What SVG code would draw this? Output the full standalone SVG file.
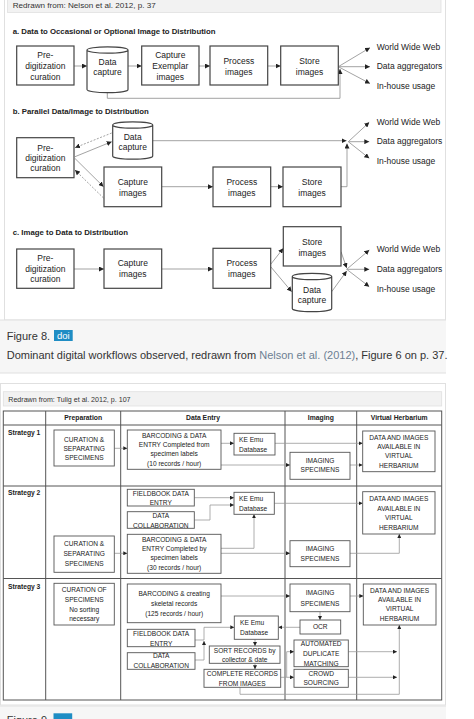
<svg xmlns="http://www.w3.org/2000/svg" width="474" height="719" viewBox="0 0 474 719">
<defs>
<marker id="ah" markerUnits="userSpaceOnUse" markerWidth="5" markerHeight="5" refX="5" refY="2.5" orient="auto"><path d="M0,0 L5,2.5 L0,5 z" fill="#222"/></marker>
<marker id="as" markerUnits="userSpaceOnUse" markerWidth="4" markerHeight="4" refX="4" refY="2" orient="auto"><path d="M0,0 L4,2 L0,4 z" fill="#222"/></marker>
<style>
text{font-family:"Liberation Sans",Arial,sans-serif;fill:#222}
.t{font-size:8.5px;text-anchor:middle}
.lbl{font-size:8.5px}
.h{font-size:7.8px;font-weight:bold}
.bx{fill:#fff;stroke:#444;stroke-width:1.2}
.c{fill:none;stroke:#999;stroke-width:0.9;marker-end:url(#ah)}
.cd{fill:none;stroke:#999;stroke-width:0.9;stroke-dasharray:2,1.5;marker-end:url(#ah)}
.tt{font-size:6.6px;text-anchor:middle}
.tl{font-size:6.6px}
.th{font-size:6.8px;font-weight:bold;text-anchor:middle}
.ts{font-size:6.7px;font-weight:bold}
.tb{fill:#fff;stroke:#555;stroke-width:0.9}
.tc{fill:none;stroke:#999;stroke-width:0.8;marker-end:url(#as)}
.grid{fill:none;stroke:#555;stroke-width:1}
.hdr{fill:#f2f2f2;stroke:#e0e0e0;stroke-width:0.8}
</style>
</defs>
<rect x="0" y="0" width="474" height="719" fill="#fff"/>
<!-- Figure 8 panel -->
<rect x="4.5" y="-2" width="441" height="322" fill="#fff" stroke="#e0e0e0"/>
<rect class="hdr" x="7.5" y="-2" width="433.5" height="14.5"/>
<text x="12.7" y="8" style="font-size:8.1px;fill:#333">Redrawn from: Nelson et al. 2012, p. 37</text>

<text class="h" x="12.7" y="33.5">a. Data to Occasional or Optional Image to Distribution</text>
<text class="h" x="12.7" y="113.5">b. Parallel Data/Image to Distribution</text>
<text class="h" x="12.7" y="234.5">c. Image to Data to Distribution</text>

<g id="connectors-a">
<path class="c" d="M74,66 H87"/>
<path class="c" d="M128,66 H141.7"/>
<path class="c" d="M199,66 H210"/>
<path class="c" d="M267.7,66 H280.7"/>
<path class="c" d="M107.3,93 V98.3 H340 V69"/>
<path class="c" d="M338.3,66.7 L370,47.7"/>
<path class="c" d="M338.3,66.7 L370,66.7"/>
<path class="c" d="M338.3,66.7 L370,83.5"/>
</g>
<g id="a-predig"><rect class="bx" x="16.7" y="46" width="57.3" height="39"/><text class="t" x="45.3" y="58">Pre-</text><text class="t" x="45.3" y="68.7">digitization</text><text class="t" x="45.3" y="79.7">curation</text></g>
<g id="a-datacapture"><path class="bx" d="M87,50 V89.5 A20.5,3.2 0 0 0 128,89.5 V50 A20.5,3.2 0 0 0 87,50 A20.5,3.2 0 0 0 128,50"/><text class="t" x="107.5" y="64.7">Data</text><text class="t" x="107.5" y="74.7">capture</text></g>
<g id="a-capture"><rect class="bx" x="141.7" y="46" width="57.3" height="39"/><text class="t" x="170.3" y="58">Capture</text><text class="t" x="170.3" y="68.7">Exemplar</text><text class="t" x="170.3" y="79.7">images</text></g>
<g id="a-process"><rect class="bx" x="210" y="46" width="57.7" height="39"/><text class="t" x="238.8" y="64">Process</text><text class="t" x="238.8" y="74.7">images</text></g>
<g id="a-store"><rect class="bx" x="280.7" y="46" width="57.6" height="39"/><text class="t" x="309.5" y="64">Store</text><text class="t" x="309.5" y="74.7">images</text></g>
<g id="a-out"><text class="lbl" x="376.7" y="49.7">World Wide Web</text><text class="lbl" x="376.7" y="69">Data aggregators</text><text class="lbl" x="376.7" y="89">In-house usage</text></g>

<g id="connectors-b">
<path class="c" d="M75,156.7 L111.7,141.7"/>
<path class="cd" d="M111.7,133 L75,147.7"/>
<path class="c" d="M75,158.5 L103.5,186.7"/>
<path class="cd" d="M103.5,198 L75,170"/>
<path class="c" d="M161.7,186.7 H213"/>
<path class="c" d="M270.7,186.7 H283"/>
<path class="c" d="M152.7,140.7 H346.5"/>
<path class="c" d="M341,186.7 H347 V143.5"/>
<path class="c" d="M348.3,141.7 L369.3,122.3"/>
<path class="c" d="M348.3,141.7 L369.3,141.7"/>
<path class="c" d="M348.3,141.7 L369.3,158.3"/>
</g>
<g id="b-predig"><rect class="bx" x="16.7" y="137.7" width="57.3" height="40"/><text class="t" x="45.3" y="150.7">Pre-</text><text class="t" x="45.3" y="161.3">digitization</text><text class="t" x="45.3" y="171.3">curation</text></g>
<g id="b-datacapture"><path class="bx" d="M112.7,125 V156 A20,3.2 0 0 0 152.7,156 V125 A20,3.2 0 0 0 112.7,125 A20,3.2 0 0 0 152.7,125"/><text class="t" x="132.7" y="140.3">Data</text><text class="t" x="132.7" y="150.3">capture</text></g>
<g id="b-capture"><rect class="bx" x="104" y="167" width="57.7" height="39.7"/><text class="t" x="132.8" y="185.3">Capture</text><text class="t" x="132.8" y="196.3">images</text></g>
<g id="b-process"><rect class="bx" x="213" y="167" width="57.7" height="39.7"/><text class="t" x="241.8" y="185.3">Process</text><text class="t" x="241.8" y="196.3">images</text></g>
<g id="b-store"><rect class="bx" x="283" y="167" width="58" height="39.7"/><text class="t" x="312" y="184.7">Store</text><text class="t" x="312" y="196.3">images</text></g>
<g id="b-out"><text class="lbl" x="376.7" y="124.7">World Wide Web</text><text class="lbl" x="376.7" y="144">Data aggregators</text><text class="lbl" x="376.7" y="163.7">In-house usage</text></g>

<g id="connectors-c">
<path class="c" d="M74,269 H104"/>
<path class="c" d="M161.7,269 H213"/>
<path class="c" d="M270.7,264.3 L283.3,248.3"/>
<path class="c" d="M270.7,266.7 L291.7,291.7"/>
<path class="c" d="M341,251.7 L346.7,268"/>
<path class="c" d="M331.7,291.7 L346.7,271"/>
<path class="c" d="M346.7,269.3 L369.3,250"/>
<path class="c" d="M346.7,269.3 L369.3,269.3"/>
<path class="c" d="M346.7,269.3 L369.3,286.7"/>
</g>
<g id="c-predig"><rect class="bx" x="16.7" y="249" width="57.3" height="39.3"/><text class="t" x="45.3" y="260.7">Pre-</text><text class="t" x="45.3" y="272">digitization</text><text class="t" x="45.3" y="282.3">curation</text></g>
<g id="c-capture"><rect class="bx" x="104" y="249" width="57.7" height="39.3"/><text class="t" x="132.8" y="266.3">Capture</text><text class="t" x="132.8" y="277.3">images</text></g>
<g id="c-process"><rect class="bx" x="213" y="248.3" width="57.7" height="40"/><text class="t" x="241.8" y="266.3">Process</text><text class="t" x="241.8" y="277.3">images</text></g>
<g id="c-store"><rect class="bx" x="283.3" y="226.7" width="57.7" height="39.3"/><text class="t" x="312.2" y="244.7">Store</text><text class="t" x="312.2" y="255.7">images</text></g>
<g id="c-datacapture"><path class="bx" d="M292.3,276.5 V308.5 A19.7,3.2 0 0 0 331.7,308.5 V276.5 A19.7,3.2 0 0 0 292.3,276.5 A19.7,3.2 0 0 0 331.7,276.5"/><text class="t" x="312" y="293">Data</text><text class="t" x="312" y="303">capture</text></g>
<g id="c-out"><text class="lbl" x="376.7" y="252.3">World Wide Web</text><text class="lbl" x="376.7" y="272.3">Data aggregators</text><text class="lbl" x="376.7" y="292">In-house usage</text></g>

<!-- Caption 8 -->
<g id="caption8">
<rect x="0" y="320" width="446" height="53" fill="#f6f6f6"/>
<line x1="0" y1="320" x2="446" y2="320" stroke="#e0e0e0"/>
<line x1="0" y1="373" x2="446" y2="373" stroke="#e0e0e0"/>
<text x="6.7" y="339.5" style="font-size:11px;fill:#333">Figure 8.</text>
<rect x="54" y="330" width="18.7" height="11" fill="#1f8dc4"/>
<text x="63.3" y="338.8" style="font-size:9.5px;fill:#fff;text-anchor:middle">doi</text>
<text x="6.7" y="359" style="font-size:11px;fill:#333">Dominant digital workflows observed, redrawn from <tspan style="fill:#6d7f93">Nelson et al. (2012)</tspan>, Figure 6 on p. 37.</text>
</g>

<!-- Figure 9 panel -->
<rect x="0.5" y="383.5" width="445" height="321.5" fill="#fff" stroke="#e0e0e0"/>
<rect class="hdr" x="3.3" y="391.7" width="438.4" height="14.3"/>
<text x="8.3" y="401.5" style="font-size:7.1px;fill:#333">Redrawn from: Tulig et al. 2012, p. 107</text>

<g id="table">
<rect class="grid" x="3.3" y="411" width="438.4" height="289"/>
<path class="grid" d="M45.7,411 V700 M120.7,411 V700 M285,411 V700 M356.7,411 V700 M3.3,425 H441.7 M3.3,486 H441.7 M3.3,578.5 H441.7"/>
<text class="th" x="83.2" y="420.3">Preparation</text>
<text class="th" x="203" y="420.3">Data Entry</text>
<text class="th" x="320.8" y="420.3">Imaging</text>
<text class="th" x="399.2" y="420.3">Virtual Herbarium</text>
<text class="ts" x="8" y="435">Strategy 1</text>
<text class="ts" x="8" y="494.6">Strategy 2</text>
<text class="ts" x="8" y="589">Strategy 3</text>
</g>

<g id="connectors-table">
<path class="tc" d="M114.3,448.3 H127.3"/>
<path class="tc" d="M221,443.3 H234"/>
<path class="tc" d="M275,443.3 H362.7"/>
<path class="tc" d="M221,465 H290"/>
<path class="tc" d="M350,465 H362.7"/>
<path class="tc" d="M194.3,497.7 H234"/>
<path class="tc" d="M194.3,520 H210 V505 H234"/>
<path class="tc" d="M274.3,503.3 H362.7"/>
<path class="tc" d="M114.3,553.3 H127.3"/>
<path class="tc" d="M221,548.3 H254 V514.3"/>
<path class="tc" d="M221,553.3 H290"/>
<path class="tc" d="M350,553.3 H399.3 V534"/>
<path class="tc" d="M221,596 H290"/>
<path class="tc" d="M350,596 H363.3"/>
<path class="tc" d="M320,611.7 V620"/>
<path class="tc" d="M300,627.3 H278.3"/>
<path class="tc" d="M195,640 H204 V627.3 H234.3"/>
<path class="tc" d="M195,660 H204 V641"/>
<path class="tc" d="M255,639.3 V646"/>
<path class="tc" d="M255,663.3 V669.3"/>
<path class="tc" d="M280.7,677.3 H286.7 V651.7 H294"/>
<path class="tc" d="M286.7,677.3 H294"/>
<path class="tc" d="M348.3,651.7 H397"/>
<path class="tc" d="M348.3,677.3 H397"/>
<path class="tc" d="M240,687.3 V694.3 H399.3 V625"/>
</g>

<!-- Strategy 1 -->
<g id="s1-curation"><rect class="tb" x="54" y="430" width="60.3" height="36"/><text class="tt" x="84.2" y="441.6">CURATION &amp;</text><text class="tt" x="84.2" y="450.6">SEPARATING</text><text class="tt" x="84.2" y="460">SPECIMENS</text></g>
<g id="s1-barcoding"><rect class="tb" x="127.3" y="430" width="93.7" height="39.3"/><text class="tt" x="174.2" y="438">BARCODING &amp; DATA</text><text class="tt" x="174.2" y="447.3">ENTRY Completed from</text><text class="tt" x="174.2" y="456.3">specimen labels</text><text class="tt" x="174.2" y="466.3">(10 records / hour)</text></g>
<g id="s1-keemu"><rect class="tb" x="234" y="433.3" width="41" height="21.7"/><text class="tl" x="239" y="441.6">KE Emu</text><text class="tl" x="239" y="451.6">Database</text></g>
<g id="s1-imaging"><rect class="tb" x="290" y="452.3" width="60" height="27"/><text class="tt" x="320" y="463.3">IMAGING</text><text class="tt" x="320" y="472.3">SPECIMENS</text></g>
<g id="s1-virtual"><rect class="tb" x="362.7" y="431" width="72.3" height="40.7"/><text class="tt" x="398.8" y="439.6">DATA AND IMAGES</text><text class="tt" x="398.8" y="449">AVAILABLE IN</text><text class="tt" x="398.8" y="458.3">VIRTUAL</text><text class="tt" x="398.8" y="467.6">HERBARIUM</text></g>

<!-- Strategy 2 -->
<g id="s2-fieldbook"><rect class="tb" x="127.3" y="489.3" width="67" height="16.7"/><text class="tt" x="160.8" y="495.6">FIELDBOOK DATA</text><text class="tt" x="160.8" y="504.6">ENTRY</text></g>
<g id="s2-collab"><rect class="tb" x="127.3" y="511.7" width="67" height="16.6"/><text class="tt" x="160.8" y="518">DATA</text><text class="tt" x="160.8" y="527.6">COLLABORATION</text></g>
<g id="s2-curation"><rect class="tb" x="54" y="536" width="60.3" height="36.3"/><text class="tt" x="84.2" y="546.3">CURATION &amp;</text><text class="tt" x="84.2" y="555.6">SEPARATING</text><text class="tt" x="84.2" y="565.6">SPECIMENS</text></g>
<g id="s2-barcoding"><rect class="tb" x="127.3" y="534.3" width="93.7" height="39"/><text class="tt" x="174.2" y="541.6">BARCODING &amp; DATA</text><text class="tt" x="174.2" y="550.6">ENTRY Completed by</text><text class="tt" x="174.2" y="560">specimen labels</text><text class="tt" x="174.2" y="570">(30 records / hour)</text></g>
<g id="s2-keemu"><rect class="tb" x="234" y="492.3" width="40.3" height="22"/><text class="tl" x="239" y="501.3">KE Emu</text><text class="tl" x="239" y="510.6">Database</text></g>
<g id="s2-imaging"><rect class="tb" x="290" y="540.7" width="60" height="26"/><text class="tt" x="320" y="551.3">IMAGING</text><text class="tt" x="320" y="560.6">SPECIMENS</text></g>
<g id="s2-virtual"><rect class="tb" x="362.7" y="491.7" width="72.3" height="42.3"/><text class="tt" x="398.8" y="501.3">DATA AND IMAGES</text><text class="tt" x="398.8" y="510.6">AVAILABLE IN</text><text class="tt" x="398.8" y="520">VIRTUAL</text><text class="tt" x="398.8" y="529.6">HERBARIUM</text></g>

<!-- Strategy 3 -->
<g id="s3-curation"><rect class="tb" x="54" y="583.3" width="60.3" height="41.7"/><text class="tt" x="84.2" y="592.3">CURATION OF</text><text class="tt" x="84.2" y="602.3">SPECIMENS</text><text class="tt" x="84.2" y="611.6">No sorting</text><text class="tt" x="84.2" y="621.3">necessary</text></g>
<g id="s3-barcoding"><rect class="tb" x="127.3" y="584" width="93.7" height="38.7"/><text class="tt" x="174.2" y="596.3">BARCODING &amp; creating</text><text class="tt" x="174.2" y="606.3">skeletal records</text><text class="tt" x="174.2" y="616.3">(125 records / hour)</text></g>
<g id="s3-imaging"><rect class="tb" x="290" y="584" width="60" height="27.7"/><text class="tt" x="320" y="595">IMAGING</text><text class="tt" x="320" y="605.6">SPECIMENS</text></g>
<g id="s3-virtual"><rect class="tb" x="363.3" y="584" width="72.7" height="41"/><text class="tt" x="399.6" y="593">DATA AND IMAGES</text><text class="tt" x="399.6" y="601.6">AVAILABLE IN</text><text class="tt" x="399.6" y="611.3">VIRTUAL</text><text class="tt" x="399.6" y="621.3">HERBARIUM</text></g>
<g id="s3-keemu"><rect class="tb" x="234.3" y="616" width="44" height="23.3"/><text class="tl" x="240" y="624.6">KE Emu</text><text class="tl" x="240" y="635">Database</text></g>
<g id="s3-ocr"><rect class="tb" x="300" y="620" width="40.7" height="14"/><text class="tt" x="320.3" y="629.3">OCR</text></g>
<g id="s3-fieldbook"><rect class="tb" x="127.3" y="629.3" width="67.7" height="17.4"/><text class="tt" x="161.2" y="635.6">FIELDBOOK DATA</text><text class="tt" x="161.2" y="645.6">ENTRY</text></g>
<g id="s3-collab"><rect class="tb" x="127.3" y="652.7" width="67.7" height="16.6"/><text class="tt" x="161.2" y="658.3">DATA</text><text class="tt" x="161.2" y="668.3">COLLABORATION</text></g>
<g id="s3-sort"><rect class="tb" x="209.3" y="646" width="70.7" height="17.3"/><text class="tt" x="244.7" y="653">SORT RECORDS by</text><text class="tt" x="244.7" y="662.3">collector &amp; date</text></g>
<g id="s3-complete"><rect class="tb" x="204" y="669.3" width="76.7" height="18"/><text class="tt" x="242.3" y="676.3">COMPLETE RECORDS</text><text class="tt" x="242.3" y="685.6">FROM IMAGES</text></g>
<g id="s3-automated"><rect class="tb" x="294" y="640" width="54.3" height="26.7"/><text class="tt" x="321.2" y="645.6">AUTOMATED</text><text class="tt" x="321.2" y="656.3">DUPLICATE</text><text class="tt" x="321.2" y="665.6">MATCHING</text></g>
<g id="s3-crowd"><rect class="tb" x="294" y="669.3" width="54.3" height="18"/><text class="tt" x="321.2" y="675.6">CROWD</text><text class="tt" x="321.2" y="685">SOURCING</text></g>

<!-- Caption 9 (cut off) -->
<g id="caption9">
<rect x="0" y="706" width="446" height="13" fill="#f6f6f6"/>
<line x1="0" y1="706" x2="446" y2="706" stroke="#e0e0e0"/>
<text x="6.7" y="723.5" style="font-size:11px;fill:#333">Figure 9.</text>
<rect x="53.5" y="713.3" width="18.7" height="11" fill="#1f8dc4"/>
</g>
</svg>
